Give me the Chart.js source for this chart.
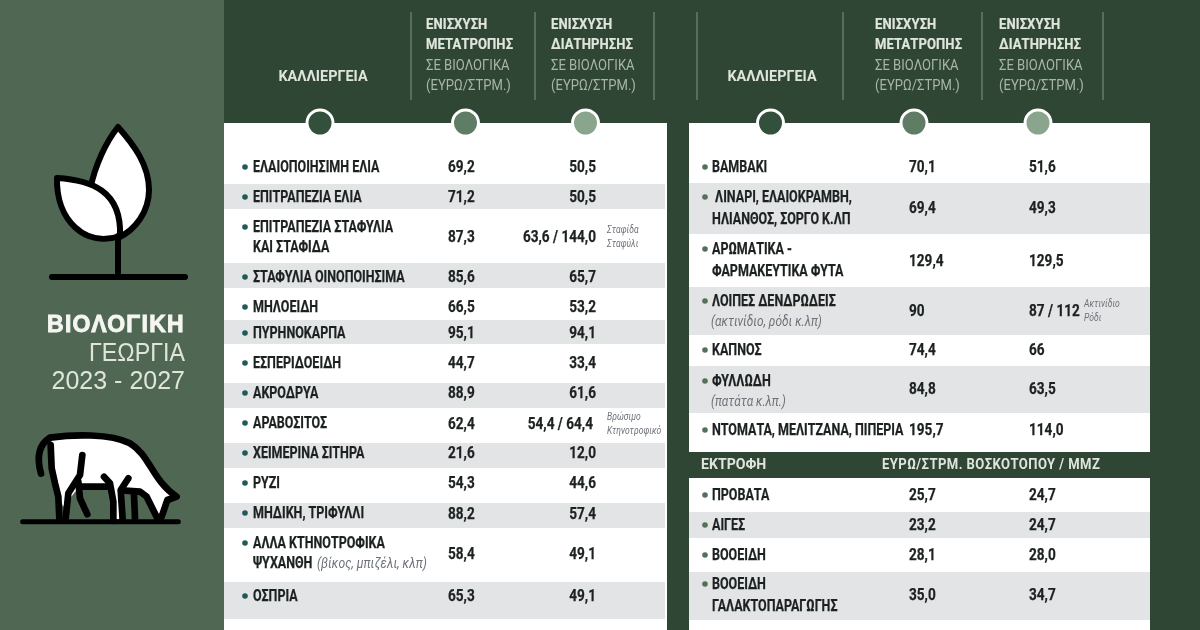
<!DOCTYPE html>
<html>
<head>
<meta charset="utf-8">
<style>
  html, body { margin: 0; padding: 0; background: #2f4634; }
  #wrap { width: 1200px; height: 630px; }
</style>
<script src="https://cdn.jsdelivr.net/npm/chart.js@4"></script>
</head>
<body>
<div id="wrap"><canvas id="tableChart" width="1200" height="630"></canvas></div>
<script>
// left table
const leftCrops = [
  ['ΕΛΑΙΟΠΟΙΗΣΙΜΗ ΕΛΙΑ'], ['ΕΠΙΤΡΑΠΕΖΙΑ ΕΛΙΑ'], ['ΕΠΙΤΡΑΠΕΖΙΑ ΣΤΑΦΥΛΙΑ', 'ΚΑΙ ΣΤΑΦΙΔΑ'],
  ['ΣΤΑΦΥΛΙΑ ΟΙΝΟΠΟΙΗΣΙΜΑ'], ['ΜΗΛΟΕΙΔΗ'], ['ΠΥΡΗΝΟΚΑΡΠΑ'], ['ΕΣΠΕΡΙΔΟΕΙΔΗ'], ['ΑΚΡΟΔΡΥΑ'],
  ['ΑΡΑΒΟΣΙΤΟΣ'], ['ΧΕΙΜΕΡΙΝΑ ΣΙΤΗΡΑ'], ['ΡΥΖΙ'], ['ΜΗΔΙΚΗ, ΤΡΙΦΥΛΛΙ'],
  ['ΑΛΛΑ ΚΤΗΝΟΤΡΟΦΙΚΑ', 'ΨΥΧΑΝΘΗ'], ['ΟΣΠΡΙΑ']
];
const leftConversion = ['69,2', '71,2', '87,3', '85,6', '66,5', '95,1', '44,7', '88,9', '62,4', '21,6', '54,3', '88,2', '58,4', '65,3'];
const leftMaintenance = ['50,5', '50,5', '63,6 / 144,0', '65,7', '53,2', '94,1', '33,4', '61,6', '54,4 / 64,4', '12,0', '44,6', '57,4', '49,1', '49,1'];
const leftNotes = [null, null, ['Σταφίδα', 'Σταφύλι'], null, null, null, null, null, ['Βρώσιμο', 'Κτηνοτροφικό'], null, null, null, null, null];

// right table, crops
const rightCrops = [
  ['ΒΑΜΒΑΚΙ'], [' ΛΙΝΑΡΙ, ΕΛΑΙΟΚΡΑΜΒΗ,', 'ΗΛΙΑΝΘΟΣ, ΣΟΡΓΟ Κ.ΛΠ'], ['ΑΡΩΜΑΤΙΚΑ -', 'ΦΑΡΜΑΚΕΥΤΙΚΑ ΦΥΤΑ'],
  ['ΛΟΙΠΕΣ ΔΕΝΔΡΩΔΕΙΣ'], ['ΚΑΠΝΟΣ'], ['ΦΥΛΛΩΔΗ'], ['ΝΤΟΜΑΤΑ, ΜΕΛΙΤΖΑΝΑ, ΠΙΠΕΡΙΑ']
];
const rightConversion = ['70,1', '69,4', '129,4', '90', '74,4', '84,8', '195,7'];
const rightMaintenance = ['51,6', '49,3', '129,5', '87 / 112', '66', '63,5', '114,0'];
const rightNotes = [null, null, null, ['Ακτινίδιο', 'Ρόδι'], null, null, null];

// right table, livestock
const livestock = [['ΠΡΟΒΑΤΑ'], ['ΑΙΓΕΣ'], ['ΒΟΟΕΙΔΗ'], ['ΒΟΟΕΙΔΗ', 'ΓΑΛΑΚΤΟΠΑΡΑΓΩΓΗΣ']];
const livestockConversion = ['25,7', '23,2', '28,1', '35,0'];
const livestockMaintenance = ['24,7', '24,7', '28,0', '34,7'];

const headerCrop = 'ΚΑΛΛΙΕΡΓΕΙΑ';
const headerConversion = ['ΕΝΙΣΧΥΣΗ', 'ΜΕΤΑΤΡΟΠΗΣ', 'ΣΕ ΒΙΟΛΟΓΙΚΑ', '(ΕΥΡΩ/ΣΤΡΜ.)'];
const headerMaintenance = ['ΕΝΙΣΧΥΣΗ', 'ΔΙΑΤΗΡΗΣΗΣ', 'ΣΕ ΒΙΟΛΟΓΙΚΑ', '(ΕΥΡΩ/ΣΤΡΜ.)'];
const livestockHeader = 'ΕΚΤΡΟΦΗ';
const livestockUnit = 'ΕΥΡΩ/ΣΤΡΜ. ΒΟΣΚΟΤΟΠΟΥ / ΜΜΖ';
const sideTitle = ['ΒΙΟΛΟΓΙΚΗ', 'ΓΕΩΡΓΙΑ', '2023 - 2027'];

// rows: band top/bottom, text line positions, value position
const leftBands = [[184,209],[263,288],[320,344],[383,408],[443,468],[503,528],[582,619]];
const rightBands = [[183,234],[287,335],[366,413],[512,538],[572,620]];
const leftLines = [[167],[197],[227,247],[277],[307],[333],[363],[393],[423],[453],[483],[513],[543,563],[596]];
const leftValueY = [167,197,237,277,307,333,363,393,424,453,483,514,554,596];
const rightLines = [[167],[197,219],[249,271],[301],[350],[381],[430]];
const rightValueY = [167,208,261,311,350,389,430];
const livestockLines = [[495],[525],[555],[584,606]];
const livestockValueY = [495,525,555,595];
const leftRemarks = {12: '(βίκος, μπιζέλι, κλπ)'};
const rightRemarks = {3: ['(ακτινίδιο, ρόδι κ.λπ)', 321], 5: ['(πατάτα κ.λπ.)', 401]};

const DARK = '#2f4634', SIDE = '#4f6753', BAND = '#e3e4e5', INK = '#1c2220';
const SANS = 'Roboto, "Liberation Sans", sans-serif';
const BOLD = 'bold 16px ' + SANS;
const HEAD = 'bold 15px ' + SANS;
const REG = '15px ' + SANS;
// horizontal squeeze, the original face is a condensed one
const NAME_FIT = 0.78, NUM_FIT = 0.85, HEAD_FIT = 0.87;

// middle baseline sits a bit high, so everything moves down 1px
function put(ctx, str, x, y, font, color, align, fit, spacing, heavy) {
  ctx.save();
  ctx.font = font;
  ctx.fillStyle = color;
  ctx.textAlign = align || 'left';
  ctx.textBaseline = 'middle';
  ctx.letterSpacing = (spacing || 0) + 'px';
  ctx.translate(x, y + 1);
  ctx.scale(fit || 1, 1);
  ctx.fillText(str, 0, 0);
  if (heavy) {
    ctx.strokeStyle = color;
    ctx.lineWidth = heavy;
    ctx.strokeText(str, 0, 0);
  }
  ctx.restore();
}

function drawPlant(ctx) {
  ctx.save();
  ctx.strokeStyle = '#000';
  ctx.fillStyle = '#fff';
  ctx.lineWidth = 6;
  ctx.lineJoin = 'round';
  ctx.lineCap = 'round';
  ctx.beginPath(); // big leaf
  ctx.moveTo(118, 127);
  ctx.bezierCurveTo(134, 145, 149, 165, 149, 190);
  ctx.bezierCurveTo(149, 212, 135, 230, 118, 238);
  ctx.lineTo(90, 190);
  ctx.bezierCurveTo(95, 165, 106, 142, 118, 127);
  ctx.closePath();
  ctx.fill();
  ctx.stroke();
  ctx.beginPath(); // small leaf
  ctx.moveTo(57, 178);
  ctx.bezierCurveTo(90, 180, 122, 190, 120, 236);
  ctx.bezierCurveTo(85, 248, 56, 220, 57, 178);
  ctx.closePath();
  ctx.fill();
  ctx.stroke();
  ctx.beginPath();
  ctx.moveTo(118, 236);
  ctx.lineTo(118, 277);
  ctx.moveTo(52, 277);
  ctx.lineTo(185, 277);
  ctx.stroke();
  ctx.restore();
}

function drawSheep(ctx) {
  ctx.save();
  ctx.translate(30, 425);
  ctx.scale(1 / 3, 1 / 3);
  ctx.strokeStyle = '#000';
  ctx.lineWidth = 20;
  ctx.lineJoin = 'round';
  ctx.lineCap = 'round';
  const line = pts => {
    ctx.beginPath();
    pts.forEach((p, i) => i ? ctx.lineTo(p[0], p[1]) : ctx.moveTo(p[0], p[1]));
  };
  const stroke = pts => { line(pts); ctx.stroke(); };
  ctx.fillStyle = '#fff';
  line([[65,40],[160,34],[250,38],[310,62],[350,112],[390,172],[432,215],[408,225],[388,270],[350,208],[330,198],[278,192],[268,282],[254,282],[245,182],[150,182],[100,245],[85,215],[65,130]]);
  ctx.closePath();
  ctx.fill();
  ctx.beginPath(); // tail and back, down to the muzzle
  ctx.moveTo(33, 146);
  ctx.bezierCurveTo(20, 100, 25, 60, 60, 38);
  ctx.bezierCurveTo(130, 28, 240, 25, 300, 55);
  ctx.bezierCurveTo(360, 90, 365, 165, 440, 215);
  ctx.lineTo(412, 225);
  ctx.lineTo(395, 275);
  ctx.stroke();
  stroke([[62,60],[65,130],[75,175],[85,215],[88,280]]);
  stroke([[157,90],[150,150],[115,205],[107,280]]);
  stroke([[145,170],[150,220],[172,268]]);
  stroke([[150,185],[228,185]]);
  stroke([[222,155],[240,175],[250,230],[250,288]]);
  stroke([[295,160],[272,195],[278,285]]);
  stroke([[275,196],[330,200],[350,215],[382,280]]);
  stroke([[312,210],[315,280]]);
  ctx.lineWidth = 15;
  stroke([[-22,290],[445,290]]);
  ctx.restore();
}

// bands, panels and icons under the points
const backdrop = {
  id: 'backdrop',
  beforeDatasetsDraw(chart) {
    const { ctx, scales: { x, y } } = chart;
    const rect = (x0, y0, x1, y1, color) => {
      ctx.fillStyle = color;
      ctx.fillRect(x.getPixelForValue(x0), y.getPixelForValue(y0),
        x.getPixelForValue(x1) - x.getPixelForValue(x0), y.getPixelForValue(y1) - y.getPixelForValue(y0));
    };
    rect(0, 0, 1200, 630, DARK);
    rect(0, 0, 224, 630, SIDE);
    rect(224, 123, 667, 630, '#fff');
    rect(689, 123, 1150, 630, '#fff');
    leftBands.forEach(b => rect(224, b[0], 665, b[1], BAND));
    rightBands.forEach(b => rect(689, b[0], 1150, b[1], BAND));
    rect(680, 452, 1188, 478, DARK);
    [411, 535, 654, 697, 843, 982, 1103].forEach(d => rect(d - 0.5, 12, d + 0.5, 100, '#84937f'));
    drawPlant(ctx);
    drawSheep(ctx);
  }
};

// all the table text over the points
const tableText = {
  id: 'tableText',
  afterDatasetsDraw(chart) {
    const { ctx, scales: { x, y } } = chart;
    const px = v => x.getPixelForValue(v), py = v => y.getPixelForValue(v);
    put(ctx, sideTitle[0], px(185), py(325), 'bold 23px "Liberation Sans", sans-serif', '#f5f6f2', 'right', 1, 1.3, 0.9);
    put(ctx, sideTitle[1], px(185), py(353), '25px "Liberation Sans", sans-serif', '#dfe5dc', 'right', 0.93);
    put(ctx, sideTitle[2], px(185), py(381), '25px "Liberation Sans", sans-serif', '#dfe5dc', 'right', 1);

    [[323, 426, 551], [772, 875, 999]].forEach(c => {
      put(ctx, headerCrop, px(c[0]), py(76), HEAD, '#dfe5dc', 'center', 0.96);
      [[c[1], headerConversion], [c[2], headerMaintenance]].forEach(h => {
        put(ctx, h[1][0], px(h[0]), py(24), HEAD, '#dfe5dc', 'left', HEAD_FIT, 0.1, 0.2);
        put(ctx, h[1][1], px(h[0]), py(44), HEAD, '#dfe5dc', 'left', HEAD_FIT, 0.1, 0.2);
        put(ctx, h[1][2], px(h[0]), py(65), REG, '#a9b6a6', 'left', HEAD_FIT);
        put(ctx, h[1][3], px(h[0]), py(85), REG, '#a9b6a6', 'left', HEAD_FIT);
      });
    });

    const names = (list, lines, tx) => list.forEach((row, i) => row.forEach((s, k) =>
      put(ctx, s, px(tx), py(lines[i][k]), BOLD, INK, 'left', NAME_FIT, 0, 0.25)));
    names(leftCrops, leftLines, 253);
    names(rightCrops, rightLines, 712);
    names(livestock, livestockLines, 712);

    const remark = 'italic 14px ' + SANS;
    put(ctx, leftRemarks[12], px(317), py(563), remark, '#6d7278', 'left', 0.87);
    Object.values(rightRemarks).forEach(r => put(ctx, r[0], px(711), py(r[1]), remark, '#6d7278', 'left', 0.85));

    const val = (v, vx, vy, align) => put(ctx, v, px(vx), py(vy), BOLD, INK, align || 'left', NUM_FIT, 0, 0.25);
    leftConversion.forEach((v, i) => val(v, 448, leftValueY[i]));
    leftMaintenance.forEach((v, i) => val(v, v === '54,4 / 64,4' ? 593 : 596, leftValueY[i], 'right'));
    rightConversion.forEach((v, i) => val(v, 909, rightValueY[i]));
    rightMaintenance.forEach((v, i) => val(v, 1029, rightValueY[i]));
    livestockConversion.forEach((v, i) => val(v, 909, livestockValueY[i]));
    livestockMaintenance.forEach((v, i) => val(v, 1029, livestockValueY[i]));

    const note = 'italic 11px ' + SANS;
    const notes = (list, rows, nx) => list.forEach((n, i) => {
      if (!n) return;
      put(ctx, n[0], px(nx), py(rows[i] - 8), note, '#6d7278', 'left', 0.78);
      put(ctx, n[1], px(nx), py(rows[i] + 6), note, '#6d7278', 'left', 0.78);
    });
    notes(leftNotes, leftValueY, 607);
    notes(rightNotes, rightValueY, 1084);

    put(ctx, livestockHeader, px(701), py(464), HEAD, '#dfe5dc', 'left', 0.94);
    put(ctx, livestockUnit, px(882), py(464), HEAD, '#dfe5dc', 'left', HEAD_FIT, 0.5);
  }
};

const bullet = (lines, bx) => lines.map(l => ({ x: bx, y: l[0] }));

new Chart(document.getElementById('tableChart').getContext('2d'), {
  type: 'scatter',
  data: {
    datasets: [
      { // header circles, white ring
        data: [320, 465.5, 585.5, 770.5, 914, 1038].map(v => ({ x: v, y: 123 })),
        pointRadius: 13, pointBorderWidth: 3, pointBorderColor: '#fff',
        pointBackgroundColor: ['#33503d', '#5f7d65', '#8aa58d', '#33503d', '#5f7d65', '#8aa58d']
      },
      { data: bullet(leftLines, 245), pointRadius: 2.8, pointBorderWidth: 0, pointBackgroundColor: '#1f5a58' },
      { data: bullet(rightLines, 705).concat(bullet(livestockLines, 705)), pointRadius: 2.8, pointBorderWidth: 0, pointBackgroundColor: '#54705a' }
    ]
  },
  options: {
    responsive: false,
    animation: false,
    devicePixelRatio: 1,
    layout: { padding: 0, autoPadding: false },
    plugins: { legend: { display: false }, tooltip: { enabled: false } },
    scales: {
      x: { type: 'linear', min: 0, max: 1200, display: false },
      y: { type: 'linear', min: 0, max: 630, reverse: true, display: false }
    }
  },
  plugins: [backdrop, tableText]
});
</script>
</body>
</html>
